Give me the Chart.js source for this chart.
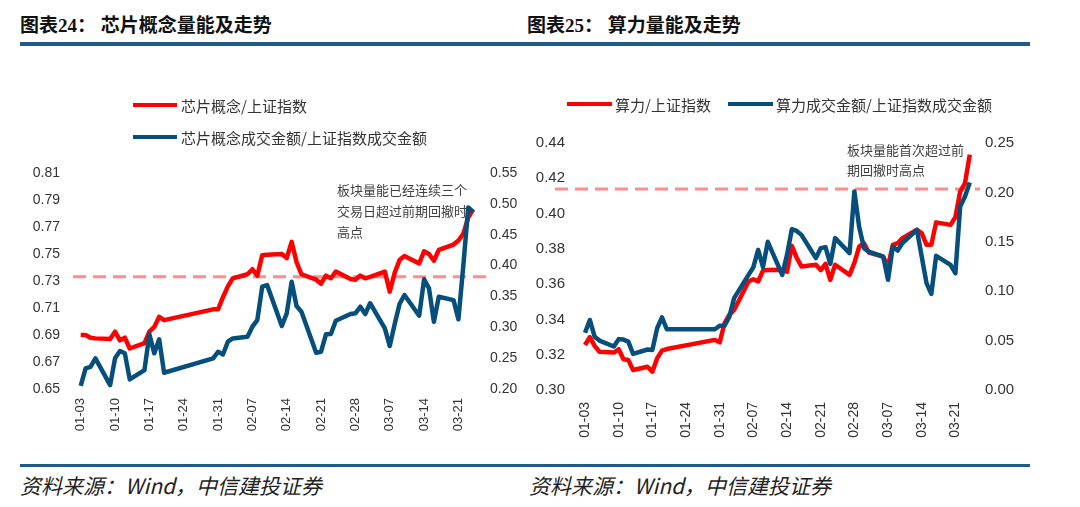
<!DOCTYPE html>
<html><head><meta charset="utf-8">
<script src="https://cdn.jsdelivr.net/npm/chart.js@4.4.0/dist/chart.umd.min.js"></script>
<style>
html,body{margin:0;padding:0;background:#fff;width:1080px;height:507px;overflow:hidden;}
body{position:relative;font-family:'Liberation Sans','Noto Sans CJK SC',sans-serif;}
.title{position:absolute;top:13px;font-family:'Liberation Serif','Noto Sans CJK SC',serif;font-weight:bold;font-size:19px;color:#111;line-height:26px;white-space:pre;}
.rule{position:absolute;left:20px;width:1010px;background:#205a8a;}
.src{position:absolute;top:471px;font-family:'Noto Sans CJK SC',sans-serif;font-style:italic;font-size:21px;color:#222;line-height:28px;white-space:pre;}
canvas{position:absolute;}
</style></head>
<body>
<div class="title" style="left:20px">图表24： 芯片概念量能及走势</div>
<div class="title" style="left:527px">图表25： 算力量能及走势</div>
<div class="rule" style="top:42px;height:4px"></div>
<canvas id="c1" width="520" height="410" style="left:0;top:50px"></canvas>
<canvas id="c2" width="540" height="410" style="left:520px;top:50px"></canvas>
<div class="rule" style="top:464px;height:3px"></div>
<div class="src" style="left:20px">资料来源：Wind，中信建投证券</div>
<div class="src" style="left:529px">资料来源：Wind，中信建投证券</div>
<script>
// ---------- data ----------
const tradingDays = ['01-03','01-04','01-05','01-06','01-09','01-10','01-11','01-12','01-13','01-16','01-17','01-18','01-19','01-20','01-30','01-31',
'02-01','02-02','02-03','02-06','02-07','02-08','02-09','02-10','02-13','02-14','02-15','02-16','02-17','02-20','02-21','02-22','02-23','02-24','02-27','02-28',
'03-01','03-02','03-03','03-06','03-07','03-08','03-09','03-10','03-13','03-14','03-15','03-16','03-17','03-20','03-21','03-22','03-23','03-24'];
const xTickLabels = ['01-03','01-10','01-17','01-24','01-31','02-07','02-14','02-21','02-28','03-07','03-14','03-21'];

// 芯片概念/上证指数
const chipIndex = [0.690,0.690,0.688,0.6875,0.687,0.6925,0.686,0.688,0.680,0.684,0.6925,0.696,0.7035,0.701,0.709,0.709,
0.718,0.726,0.732,0.735,0.7387,0.734,0.749,0.7495,0.750,0.747,0.759,0.744,0.735,0.731,0.728,0.734,0.732,0.737,0.7315,0.731,
0.734,0.732,0.733,0.737,0.722,0.736,0.7455,0.7485,0.743,0.752,0.750,0.745,0.753,0.757,0.760,0.765,0.777,0.783];
// 芯片概念成交金额/上证指数成交金额
const chipTurnover = [0.205,0.2335,0.236,0.2497,0.2064,0.2497,0.2615,0.2578,0.2156,0.2307,0.2886,0.2578,0.2805,0.2263,0.2497,0.2604,
0.256,0.2766,0.282,0.2847,0.301,0.3117,0.3657,0.3685,0.302,0.3226,0.3738,0.3344,0.3252,0.2588,0.2604,0.2886,0.289,0.3106,0.3215,0.3226,
0.3333,0.3215,0.339,0.2983,0.2696,0.305,0.3377,0.3523,0.3187,0.3777,0.3631,0.309,0.3495,0.344,0.3129,0.40,0.494,0.487];
// 算力/上证指数
const computeIndex = [0.3255,0.330,0.325,0.3217,0.3212,0.3231,0.3174,0.317,0.3113,0.3132,0.3104,0.318,0.3223,0.3232,0.3284,0.327,
0.3378,0.3426,0.3454,0.3615,0.3628,0.3615,0.3677,0.368,0.3682,0.367,0.3817,0.375,0.370,0.371,0.368,0.3715,0.3624,0.371,0.3653,0.372,
0.3813,0.3832,0.3779,0.3756,0.370,0.3823,0.3832,0.3861,0.3908,0.3889,0.3823,0.3823,0.395,0.3936,0.398,0.4125,0.4173,0.4334];
// 算力成交金额/上证指数成交金额
const computeTurnover = [0.058,0.0709,0.054,0.050,0.044,0.0515,0.051,0.049,0.0365,0.041,0.0405,0.0625,0.0736,0.0615,0.0615,0.065,
0.065,0.074,0.093,0.1165,0.1243,0.1419,0.1243,0.150,0.1165,0.1368,0.1628,0.161,0.157,0.1335,0.1436,0.1446,0.1277,0.1537,0.1385,0.201,
0.165,0.1436,0.14,0.135,0.1115,0.1452,0.1412,0.1487,0.1621,0.1351,0.1081,0.0973,0.1358,0.1267,0.1182,0.1857,0.1959,0.21];

const chipLeftTicks = [0.65,0.67,0.69,0.71,0.73,0.75,0.77,0.79,0.81];
const chipRightTicks = [0.20,0.25,0.30,0.35,0.40,0.45,0.50,0.55];
const computeLeftTicks = [0.30,0.32,0.34,0.36,0.38,0.40,0.42,0.44];
const computeRightTicks = [0.00,0.05,0.10,0.15,0.20,0.25];

const chipPrevHigh = 0.382;      // 前期回撤时高点 (成交额比)
const computePrevHigh = 0.2034;
const chipNote = ['板块量能已经连续三个','交易日超过前期回撤时','高点'];
const computeNote = ['板块量能首次超过前','期回撤时高点'];

// ---------- helpers ----------
const YEAR = 2023;
function dayOf(md){const [m,d]=md.split('-').map(Number);return (Date.UTC(YEAR,m-1,d)-Date.UTC(YEAR,0,3))/86400000;}
function labelOf(v){const t=new Date(Date.UTC(YEAR,0,3)+Math.round(v)*86400000);return String(t.getUTCMonth()+1).padStart(2,'0')+'-'+String(t.getUTCDate()).padStart(2,'0');}
const xDays = tradingDays.map(dayOf);
const xTickDays = xTickLabels.map(dayOf);
const pts = arr => arr.map((v,i)=>({x:xDays[i],y:v}));

const RED='#ff0000', BLUE='#064f7d';
const CJK="'Liberation Sans','Noto Sans CJK SC',sans-serif";

const legendPlugin = {
  id:'customLegend',
  afterDraw(chart,args,o){
    const ctx=chart.ctx; ctx.save();
    o.items.forEach(it=>{
      const ds=chart.data.datasets[it.index];
      ctx.strokeStyle=ds.borderColor; ctx.lineWidth=4; ctx.lineCap='butt';
      ctx.beginPath(); ctx.moveTo(it.x,it.y); ctx.lineTo(it.x+o.lineLen,it.y); ctx.stroke();
      ctx.fillStyle=o.color; ctx.font=o.font; ctx.textBaseline='middle'; ctx.textAlign='left';
      ctx.fillText(ds.label,it.x+o.lineLen+o.gap,it.y+1);
    });
    ctx.restore();
  }
};
const refPlugin = {
  id:'refLine',
  beforeDatasetsDraw(chart,args,o){
    const {ctx,chartArea,scales}=chart;
    const y=scales[o.axis].getPixelForValue(o.value);
    ctx.save(); ctx.setLineDash([13,7]); ctx.strokeStyle='rgba(255,90,90,0.7)'; ctx.lineWidth=3;
    ctx.beginPath(); ctx.moveTo(chartArea.left-o.extendLeft,y); ctx.lineTo(chartArea.right,y); ctx.stroke(); ctx.restore();
  },
  afterDatasetsDraw(chart,args,o){
    const ctx=chart.ctx; ctx.save();
    ctx.fillStyle='#404040'; ctx.font="13px 'Noto Sans CJK SC',sans-serif"; ctx.textBaseline='middle'; ctx.textAlign='left';
    o.note.forEach((t,i)=>ctx.fillText(t,o.noteX,o.noteY+i*o.noteGap));
    ctx.restore();
  }
};

function makeChart(id,cfg){
  const fixTicks = arr => s => { s.ticks = arr.map(v=>({value:v})); };
  return new Chart(document.getElementById(id),{
    type:'line',
    data:{datasets:[
      {label:cfg.labels[0],data:pts(cfg.red),borderColor:RED,backgroundColor:RED,borderWidth:4.5,pointRadius:0,tension:0,yAxisID:'y',order:1,clip:false,borderJoinStyle:'round'},
      {label:cfg.labels[1],data:pts(cfg.blue),borderColor:BLUE,backgroundColor:BLUE,borderWidth:4.5,pointRadius:0,tension:0,yAxisID:'y1',order:0,clip:false,borderJoinStyle:'round'}
    ]},
    options:{
      responsive:false,animation:false,devicePixelRatio:1,
      layout:{padding:cfg.pad},
      plugins:{legend:{display:false},tooltip:{enabled:false},
        customLegend:cfg.legend,
        refLine:cfg.ref},
      scales:{
        x:{type:'linear',min:cfg.xmin,max:cfg.xmax,
           afterBuildTicks:fixTicks(xTickDays),
           afterFit:s=>{s.height=60;},
           grid:{display:false,drawTicks:false},border:{display:false},
           ticks:{callback:v=>labelOf(v),minRotation:90,maxRotation:90,autoSkip:false,padding:cfg.xpad,color:'#333',font:{family:CJK,size:cfg.xfont}}},
        y:{position:'left',min:cfg.lt[0],max:cfg.lt[cfg.lt.length-1],
           afterBuildTicks:fixTicks(cfg.lt),
           afterFit:s=>{s.width=cfg.lw;},
           grid:{display:false,drawTicks:false},border:{display:false},
           ticks:{callback:v=>v.toFixed(2),padding:cfg.lpad,color:'#333',font:{family:CJK,size:cfg.yfont}}},
        y1:{position:'right',min:cfg.rt[0],max:cfg.rt[cfg.rt.length-1],
           afterBuildTicks:fixTicks(cfg.rt),
           afterFit:s=>{s.width=cfg.rw;},
           grid:{display:false,drawTicks:false},border:{display:false},
           ticks:{callback:v=>v.toFixed(2),padding:cfg.rpad,color:'#333',font:{family:CJK,size:cfg.yfont}}}
      }
    },
    plugins:[legendPlugin,refPlugin]
  });
}

makeChart('c1',{
  labels:['芯片概念/上证指数','芯片概念成交金额/上证指数成交金额'],
  red:chipIndex,blue:chipTurnover,lt:chipLeftTicks,rt:chipRightTicks,
  xmin:-1.57,xmax:83.03,pad:{top:123,bottom:11,left:0,right:0},
  lw:73,rw:32,lpad:13,rpad:2,xpad:9,xfont:13,yfont:14,
  legend:{lineLen:44,gap:4,color:'#333',font:"15px 'Noto Sans CJK SC',sans-serif",items:[{index:0,x:133,y:55},{index:1,x:133,y:87}]},
  ref:{axis:'y1',value:chipPrevHigh,extendLeft:0,note:chipNote,noteX:337,noteY:140,noteGap:21}
});
makeChart('c2',{
  labels:['算力/上证指数','算力成交金额/上证指数成交金额'],
  red:computeIndex,blue:computeTurnover,lt:computeLeftTicks,rt:computeRightTicks,
  xmin:-2.08,xmax:82.12,pad:{top:93,bottom:10,left:0,right:0},
  lw:55,rw:80,lpad:10,rpad:5,xpad:12,xfont:14,yfont:15,
  legend:{lineLen:45,gap:3,color:'#333',font:"15px 'Noto Sans CJK SC',sans-serif",items:[{index:0,x:47,y:54},{index:1,x:208,y:54}]},
  ref:{axis:'y1',value:computePrevHigh,extendLeft:20,note:computeNote,noteX:327,noteY:100,noteGap:20}
});
</script>
</body></html>
